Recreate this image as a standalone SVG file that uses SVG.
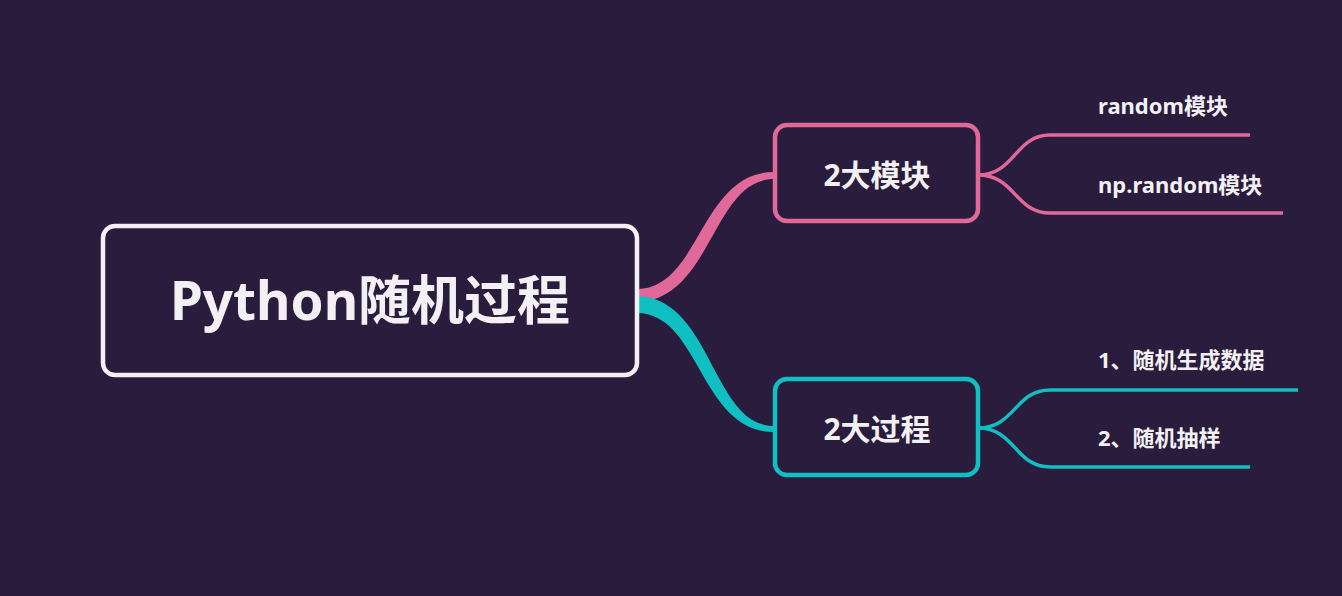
<svg xmlns="http://www.w3.org/2000/svg" width="1342" height="596" viewBox="0 0 1342 596">
<style>
text{font-family:"Noto Sans","Noto Sans CJK SC",sans-serif;font-weight:bold;fill:#f3f0f3}
.box{fill:#291c3d;stroke-width:4.5}
.thin{fill:none;stroke-width:3.5}
.lab{font-size:22px}
</style>
<rect width="1342" height="596" fill="#291c3d"/>
<g id="connectors">
<path d="M637,289 C700,289 700,172 774,172 L774,179 C712,179 712,300 637,302 Z" fill="#e0699a"/>
<path d="M637,296 C712,298 712,426 774,426 L774,432 C700,432 700,313 637,313 Z" fill="#0fbfc1"/>
<g stroke="#e0699a" class="thin"><path d="M978,175 C1015,175 1015,135 1050,135 L1250,135"/><path d="M978,175 C1015,175 1015,213 1050,213 L1283,213"/></g>
<g stroke="#0fbfc1" class="thin"><path d="M978,428 C1015,428 1015,390 1050,390 L1298,390"/><path d="M978,428 C1015,428 1015,467 1050,467 L1250,467"/></g>
</g>
<g id="root"><rect class="box" x="103" y="226" width="534" height="149" rx="12" stroke="#f3f0f3"/><text x="370" y="320" text-anchor="middle" font-size="53">Python随机过程</text></g>
<g id="n1"><rect class="box" x="775" y="125" width="203" height="96" rx="12" stroke="#e0699a"/><text x="877" y="186" text-anchor="middle" font-size="30">2大模块</text></g>
<g id="n2"><rect class="box" x="775" y="379" width="203" height="96" rx="12" stroke="#0fbfc1"/><text x="877" y="440" text-anchor="middle" font-size="30">2大过程</text></g>
<g id="l1"><text class="lab" x="1098" y="114">random模块</text></g>
<g id="l2"><text class="lab" x="1098" y="193">np.random模块</text></g>
<g id="l3"><text class="lab" x="1098" y="368">1、随机生成数据</text></g>
<g id="l4"><text class="lab" x="1098" y="446">2、随机抽样</text></g>
</svg>
